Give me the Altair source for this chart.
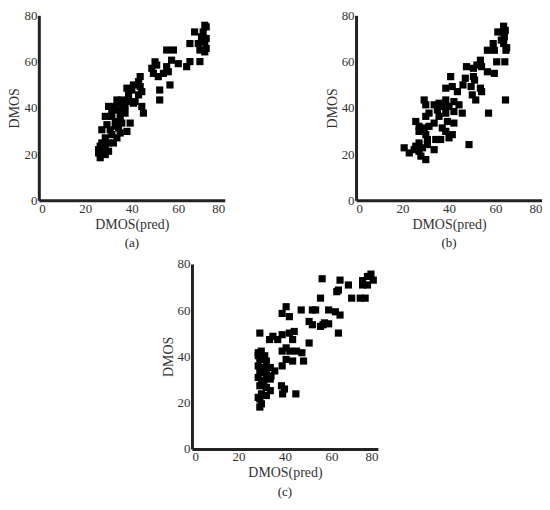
import altair as alt
import pandas as pd

# Panel (a)
a_x = [71.4, 72, 70.7, 67, 70, 72, 71.4, 68.6, 65, 69.3, 72, 71.4, 65, 69.3, 63.6,
       55, 57.9, 57.1, 60, 55, 55.7, 50, 50.7, 48.6, 49.3, 51.4, 53.6, 56.4, 52, 52,
       43.6, 42.9, 40.7, 37.9, 40, 43.6, 44.3, 42.9, 38.6, 35.7, 34.3, 36.4, 32.1, 30, 31.4,
       34.3, 37.1, 41.4, 44.3, 45, 40.7, 28.6, 31.4, 35, 37.1, 32.9, 35.7, 39.3, 29.3, 27.1,
       30.7, 34.3, 37.9, 31.4, 28.6, 33.6, 30, 32.1, 26.4, 28.6, 25.7, 27.9, 26.4, 28.6, 30,
       25.7, 27.1, 35, 32.9, 36.4, 38.6, 33.6]
a_y = [75.7, 75, 72.8, 72.8, 70.7, 70, 68.5, 67.8, 67.8, 65, 65.7, 64.2, 60, 60, 57.8,
       65, 65, 60.6, 59.1, 57.8, 55.6, 59.9, 58.5, 57.1, 54.9, 53.5, 54.9, 49.9, 47.7, 43.4,
       53.5, 51.3, 49.9, 48.5, 47.7, 49.2, 47, 45.6, 45.6, 43.4, 42, 42, 40.6, 40.6, 39.1,
       39.1, 40.6, 42.7, 40.6, 37.7, 42, 36.3, 36.3, 36.3, 37.7, 34.1, 33.4, 33.4, 32.7, 30.5,
       30.5, 31.3, 29.8, 28.4, 27, 27, 24.8, 24.8, 23.4, 22.7, 21.9, 20.5, 18.4, 19.8, 21.2,
       20.5, 24.8, 29.1, 32, 38.4, 42.7, 43.4]

# Panel (b)
b_x = [63.5, 63, 61, 63.8, 62.5, 63.5, 59, 59.5, 56.5, 64.5, 60.5, 64, 53.5, 52, 54,
       50.5, 47.5, 56.5, 59.5, 50.5, 47, 51, 46, 49.5, 53.5, 54, 50, 51.5, 57, 64.3,
       48.6, 40.7, 38.6, 41.4, 43.6, 38.6, 42.1, 35.7, 33.6, 30, 37.1, 40, 44.3, 35, 38.6,
       42.1, 45.7, 31.4, 30, 35.7, 39.3, 42.1, 33.6, 29.3, 25.7, 27.1, 29.3, 27.1, 31.4, 37.1,
       38.6, 41.4, 30, 30.7, 34.3, 36.4, 40, 30.7, 27.1, 33.6, 20.7, 22.9, 25, 27.1, 27.9,
       30, 28.6, 25.7, 64.2, 64.8]
b_y = [75.3, 72.8, 72.8, 70.7, 69.3, 67.8, 67.8, 64.9, 64.9, 64.9, 59.9, 59.9, 60.6, 58.5, 57.8,
       57.1, 57.8, 55.6, 54.9, 53.5, 52.8, 52, 49.9, 49.2, 48.5, 47, 45.6, 43.4, 37.7, 43.4,
       24.1, 53.5, 48.5, 49.2, 47, 43.4, 42.7, 42, 41.3, 41.3, 40.6, 40.6, 41.3, 39.1, 37.7,
       38.4, 37.7, 37.7, 36.3, 36.3, 34.1, 33.4, 33.4, 43.4, 34.1, 32, 31.3, 29.8, 32, 31.3,
       29.8, 28.4, 28.4, 26.3, 26.3, 26.3, 27, 24.1, 24.8, 21.9, 22.7, 20.5, 21.9, 21.2, 19.1,
       17.6, 22.7, 23.4, 73.5, 66]

# Panel (c)
c_x = [77, 75.5, 73.4, 78, 75.5, 73.4, 74.5, 72.4, 68.7, 67.3, 63.7, 63, 62.3, 56, 55.3,
       58.8, 61.7, 63.7, 57, 58.8, 56.4, 55.3, 51.8, 50.4, 47, 51.8, 53.2, 63, 50.4, 40.5,
       38.8, 41.9, 44, 41.9, 38.8, 34.8, 33.4, 29.2, 36.9, 43.3, 40.5, 38.8, 42.1, 45, 47.3,
       48, 43.3, 40.5, 38.8, 29.8, 28.5, 31.3, 29.2, 32, 28.5, 30.9, 33.7, 35.6, 29.2, 32,
       34, 28.5, 30.9, 33.7, 29.2, 32, 33.7, 38.5, 39.8, 39, 44.7, 29.9, 32, 29.2, 29.9,
       29.2, 28.5, 29.9, 28.5]
c_y = [75.6, 74.6, 72.8, 73, 70.9, 70.9, 65.2, 65.2, 65.2, 70.9, 73, 68.7, 68, 73.6, 65.2,
       60.1, 59.3, 57.9, 54.5, 54.1, 53.7, 53, 53.7, 55.1, 60.1, 60.1, 60.1, 50.1, 45.8, 61.5,
       58.6, 57.2, 50.8, 50.1, 49.4, 48.7, 47.3, 50.1, 47.3, 47.3, 43.7, 42.3, 42.3, 42.3, 41.6,
       38, 38, 38.7, 35.9, 42.3, 41.6, 40.3, 38.7, 38, 35.9, 35.2, 35.2, 33.7, 33, 32.3,
       31.6, 30.9, 29.5, 30.2, 27.3, 26.6, 25.2, 27.3, 25.9, 23.8, 23.8, 23.8, 23.1, 21.6, 19.5,
       18.1, 22.3, 28.6, 40.3]

FONT = "Liberation Serif"
TICKS = [0, 20, 40, 60, 80]


def panel(xs, ys, caption):
    df = pd.DataFrame({"pred": xs, "dmos": ys})
    return (
        alt.Chart(df)
        .mark_square(color="black", opacity=1, size=52)
        .encode(
            x=alt.X("pred:Q", title="DMOS(pred)",
                    scale=alt.Scale(domain=[0, 80], nice=False),
                    axis=alt.Axis(values=TICKS)),
            y=alt.Y("dmos:Q", title="DMOS",
                    scale=alt.Scale(domain=[0, 80], nice=False),
                    axis=alt.Axis(values=TICKS)),
        )
        .properties(width=187, height=186,
                    title=alt.TitleParams(caption, orient="bottom", offset=6,
                                          font=FONT, fontSize=13,
                                          fontWeight="normal", color="#222"))
    )


pa = panel(a_x, a_y, "(a)")
pb = panel(b_x, b_y, "(b)")
pc = panel(c_x, c_y, "(c)")

spacer = (
    alt.Chart(pd.DataFrame({"v": [0]}))
    .mark_point(opacity=0)
    .encode(x=alt.X("v:Q", axis=None), y=alt.Y("v:Q", axis=None))
    .properties(width=115, height=186)
)

top = alt.hconcat(pa, pb, spacing=101)
bottom = alt.hconcat(spacer, pc, spacing=8)

chart = (
    alt.vconcat(top, bottom, spacing=8)
    .properties(padding={"left": 0, "top": 0, "right": 0, "bottom": 0})
    .configure_view(stroke=None)
    .configure_axis(
        grid=False, ticks=False, domainColor="#222", domainWidth=3,
        labelFont=FONT, labelFontSize=13, labelColor="#333", labelPadding=2,
        titleFont=FONT, titleFontSize=14, titleFontWeight="normal",
        titleColor="#333", titlePadding=2,
    )
)

chart.save("out.html", embed_options={"renderer": "svg", "actions": False})
